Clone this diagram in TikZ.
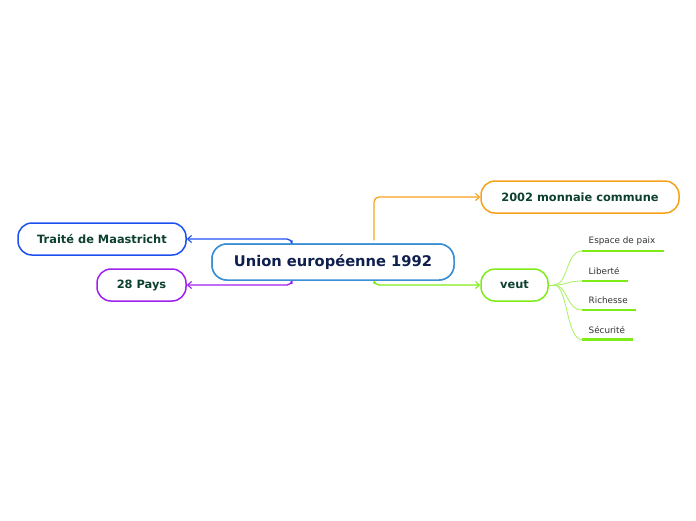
\documentclass[tikz,border=0pt]{standalone}
\usepackage{fontspec}
\setmainfont{DejaVu Sans}
\usetikzlibrary{arrows.meta}
\definecolor{cmain}{HTML}{3A8ED4}
\definecolor{cmaintext}{HTML}{0F1F4F}
\definecolor{cblue}{HTML}{1C50F0}
\definecolor{cpurple}{HTML}{A020F0}
\definecolor{corange}{HTML}{F7A21B}
\definecolor{cgreen}{HTML}{7FEC1A}
\definecolor{clight}{HTML}{A8F060}
\definecolor{csubtext}{HTML}{0D4030}
\definecolor{cleaftext}{HTML}{333333}
\tikzset{
  mainbox/.style={draw=cmain, line width=1.5pt, rounded corners=15pt, fill=white,
    minimum width=242pt, minimum height=36pt, inner sep=0pt,
    text=cmaintext, font=\fontsize{14.7pt}{17pt}\selectfont\bfseries},
  subbox/.style={draw=#1, line width=1.5pt, rounded corners=14pt, fill=white,
    minimum height=32pt, inner sep=0pt,
    text=csubtext, font=\fontsize{11.4pt}{13pt}\selectfont\bfseries},
  conn/.style={draw=#1, line width=1.3pt, rounded corners=5pt,
    -{Straight Barb[length=4pt,width=7pt,line width=1.1pt]}},
  leaftext/.style={anchor=west, inner sep=0pt, text=cleaftext,
    font=\fontsize{8.8pt}{10pt}\selectfont},
  leafline/.style={draw=cgreen, line width=2.5pt},
  leafcurve/.style={draw=clight, line width=0.8pt},
}
\begin{document}
\begin{tikzpicture}[x=1pt,y=-1pt]
\useasboundingbox (0,0) rectangle (696,520);
\node[mainbox] (main) at (333,262) {\phantom{X}};
\node[subbox=cblue, minimum width=168pt] (traite) at (102,239) {Traité de Maastricht};
\node[subbox=cpurple, minimum width=89pt] (pays) at (141.5,285) {28 Pays};
\node[subbox=corange, minimum width=198pt] (monnaie) at (580,197) {2002 monnaie commune};
\node[subbox=cgreen, minimum width=67pt] (veut) at (514.5,285) {veut};
% connectors
\draw[conn=cblue] ([xshift=-41pt,yshift=3pt]main.north) |- (traite.east);
\draw[conn=cpurple] ([xshift=-41pt,yshift=-3pt]main.south) |- (pays.east);
\draw[conn=corange] ([xshift=41pt,yshift=3pt]main.north) |- (monnaie.west);
\draw[conn=cgreen] ([xshift=41pt,yshift=-3pt]main.south) |- (veut.west);
\node[mainbox] (main) at (333,262) {Union européenne 1992};
% leaves
\coordinate (hub) at (554,285);
\coordinate (l1a) at (582,251); \coordinate (l1b) at (664,251);
\coordinate (l2a) at (582,281); \coordinate (l2b) at (628,281);
\coordinate (l3a) at (582,310); \coordinate (l3b) at (636,310);
\coordinate (l4a) at (582,339.5); \coordinate (l4b) at (633,339.5);
\draw[leafcurve] (veut.east) -- (hub);
\foreach \a in {l1a,l2a,l3a,l4a}{
  \draw[leafcurve] (hub) .. controls +(14,0) and +(-16,0) .. (\a);
}
\draw[leafline] (l1a) -- (l1b);
\draw[leafline] (l2a) -- (l2b);
\draw[leafline] (l3a) -- (l3b);
\draw[leafline] (l4a) -- (l4b);
\node[leaftext] (t1) at (588.5,241) {Espace de paix};
\node[leaftext] (t2) at (588.5,271) {Liberté};
\node[leaftext] (t3) at (588.5,300) {Richesse};
\node[leaftext] (t4) at (588.5,330) {Sécurité};
\end{tikzpicture}
\end{document}
